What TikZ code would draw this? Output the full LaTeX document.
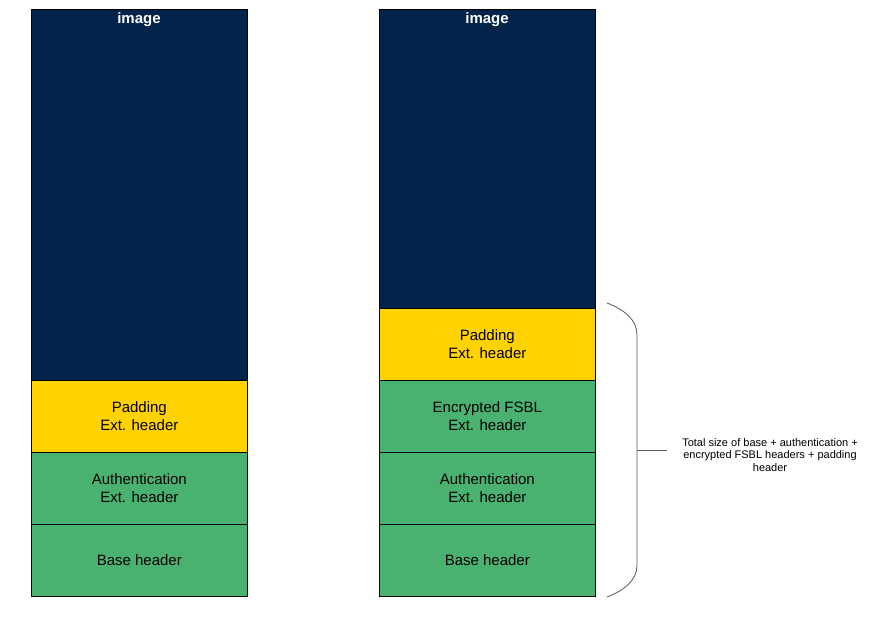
\documentclass[tikz,border=0pt]{standalone}
\usepackage{fontspec}
\setmainfont{Liberation Sans}
\definecolor{navy}{HTML}{02234A}
\definecolor{gold}{HTML}{FFD200}
\definecolor{grn}{HTML}{4AB270}
\begin{document}
\begin{tikzpicture}[x=1pt,y=-1pt,
 blk/.style={draw=black,line width=0.6pt,minimum width=216pt,anchor=north west,inner sep=0pt,align=center,font=\fontsize{15}{18}\selectfont},
 img/.style={blk,fill=navy,text=white,anchor=north west},
 lbl/.style={font=\fontsize{11}{12.5}\selectfont,align=center}]
\useasboundingbox (0,0) rectangle (882,618);
% left
\node[img,minimum height=371pt] (li) at (31,9) {};
\node[text=white,font=\fontsize{15}{18}\selectfont\bfseries,anchor=north] (lit) at (139,9) {image};
\node[blk,fill=gold,minimum height=72pt] (lp) at (31,380) {Padding\\Ext. header};
\node[blk,fill=grn,minimum height=72pt] (la) at (31,452) {Authentication\\Ext. header};
\node[blk,fill=grn,minimum height=72pt] (lb) at (31,524) {Base header};
% right
\node[img,minimum height=299pt] (ri) at (379,9) {};
\node[text=white,font=\fontsize{15}{18}\selectfont\bfseries,anchor=north] (rit) at (487,9) {image};
\node[blk,fill=gold,minimum height=72pt] (rp) at (379,308) {Padding\\Ext. header};
\node[blk,fill=grn,minimum height=72pt] (re) at (379,380) {Encrypted FSBL\\Ext. header};
\node[blk,fill=grn,minimum height=72pt] (ra) at (379,452) {Authentication\\Ext. header};
\node[blk,fill=grn,minimum height=72pt] (rb) at (379,524) {Base header};
% brace
\coordinate (bt) at (607,303);
\coordinate (bb) at (607,597);
\coordinate (bm) at (637,450);
\node[lbl] (txt) at (770,455) {Total size of base + authentication +\\encrypted FSBL headers + padding\\header};
\draw[gray!70!black,line width=0.8pt] (bt) .. controls (625,310) and (637,320) .. (637,335) -- (637,565) .. controls (637,580) and (625,590) .. (bb);
\draw[gray!70!black,line width=0.8pt] (bm) -- (667,450);
\end{tikzpicture}
\end{document}
